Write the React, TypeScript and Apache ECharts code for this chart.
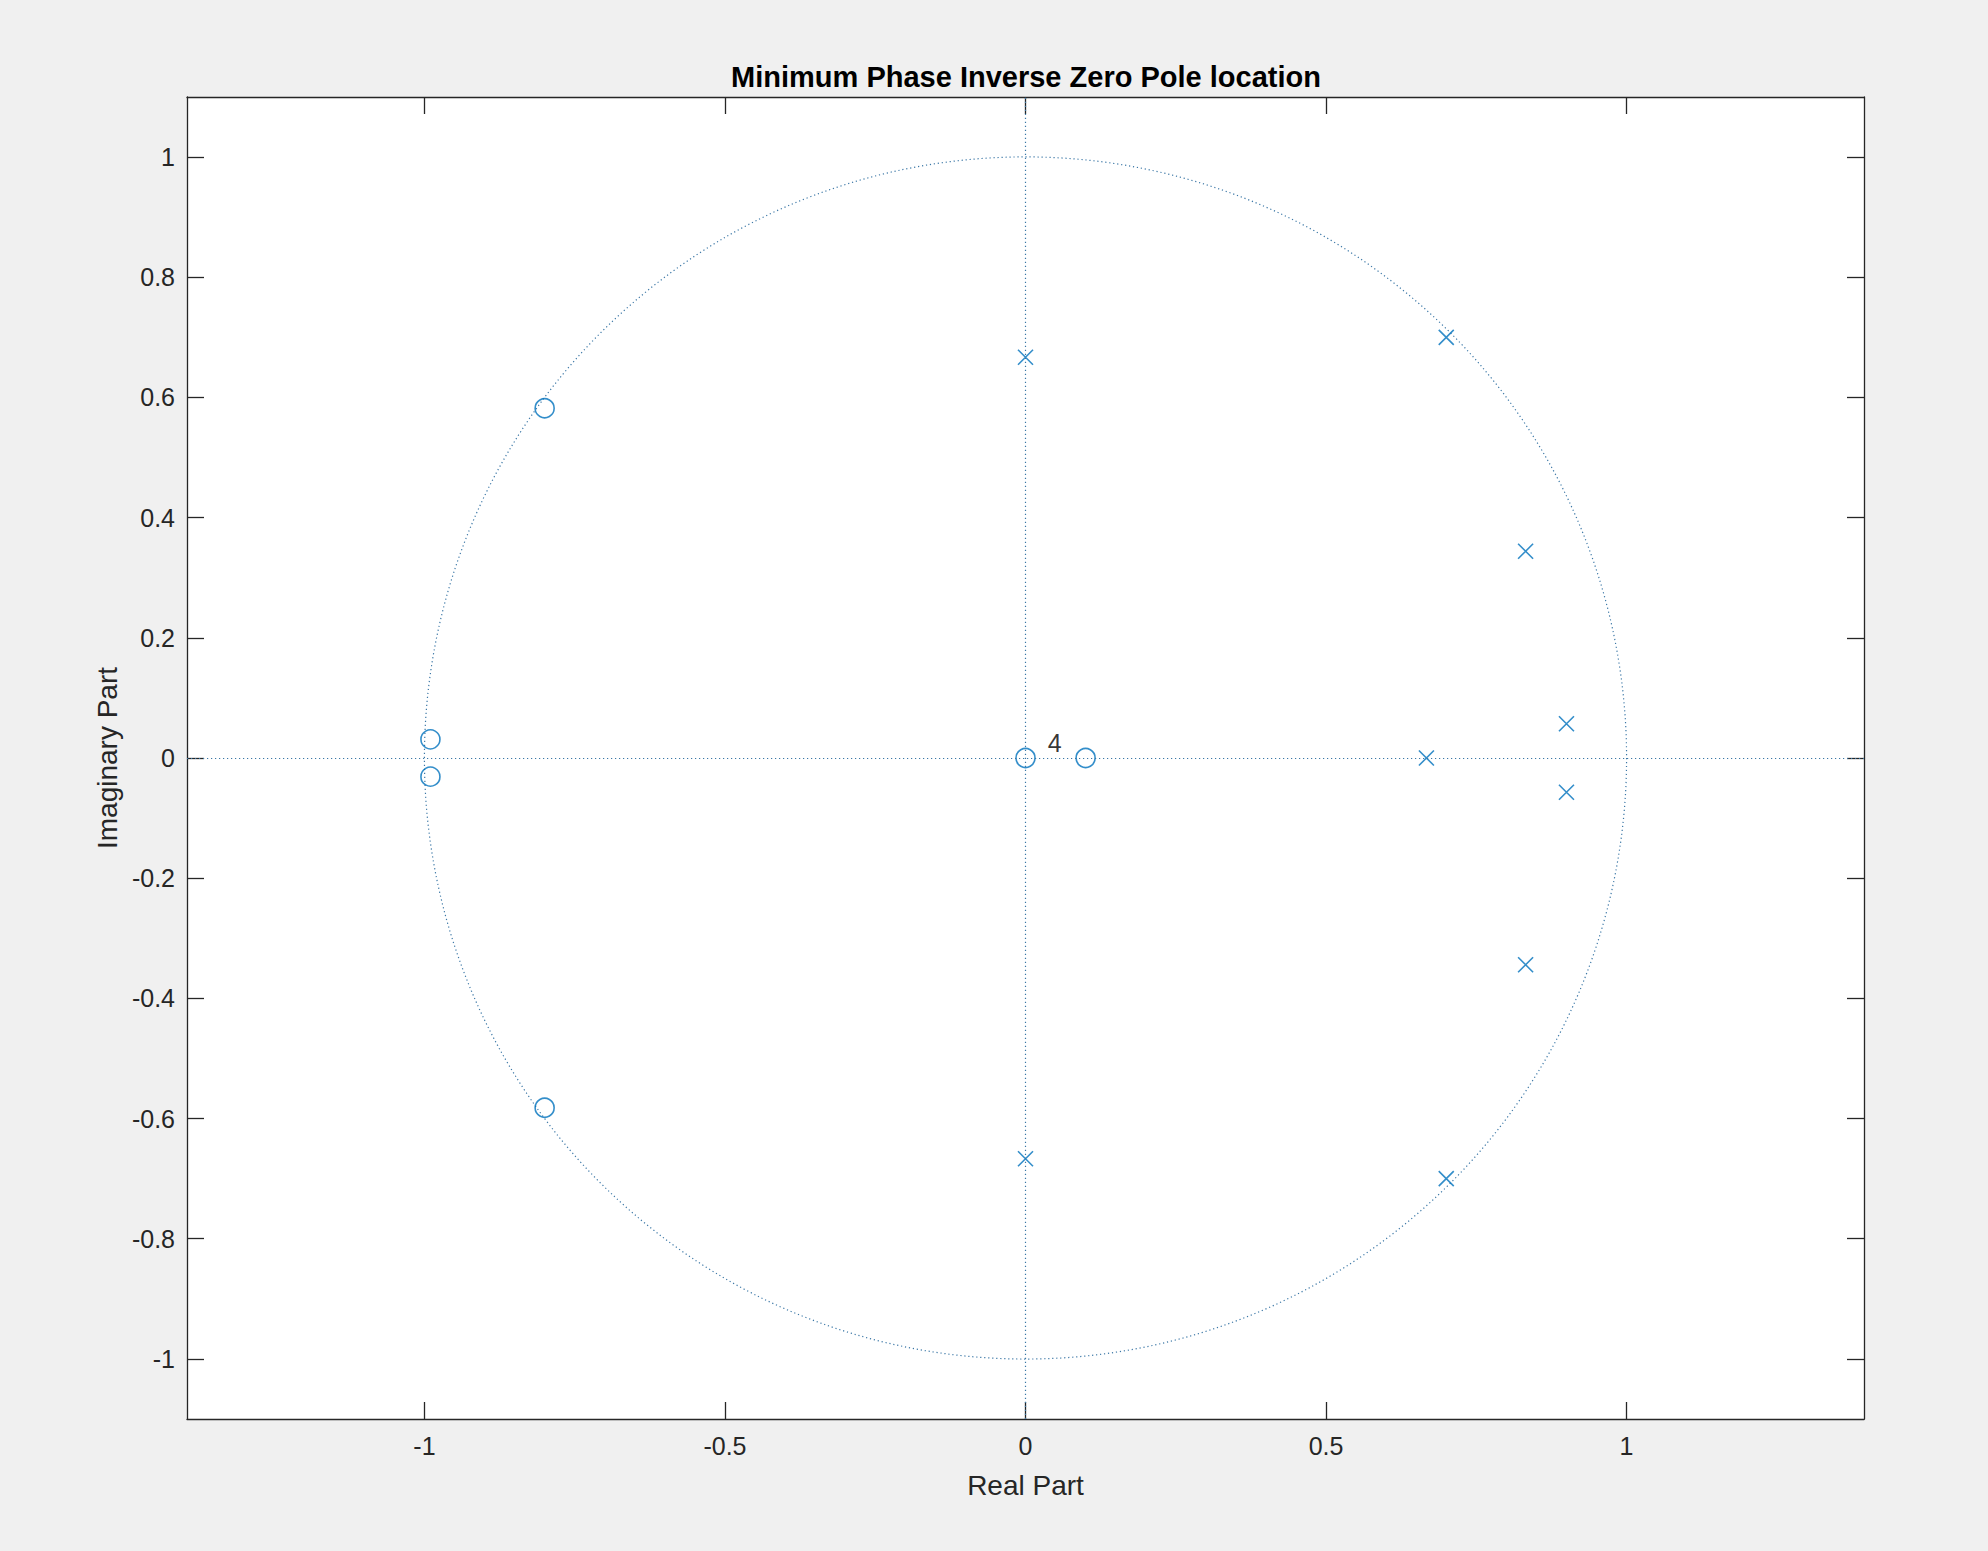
import React, { useEffect, useRef } from "react";
import * as echarts from "echarts";

const TITLE = "Minimum Phase Inverse Zero Pole location";
const X_NAME = "Real Part";
const Y_NAME = "Imaginary Part";

const xTicks = [-1, -0.5, 0, 0.5, 1];
const yTicks = [-1, -0.8, -0.6, -0.4, -0.2, 0, 0.2, 0.4, 0.6, 0.8, 1];

const X_MIN = -1.395;
const X_MAX = 1.395;
const Y_MIN = -1.1;
const Y_MAX = 1.1;

// zeros (circles)
const zeroRe = [0, 0.1, -0.99, -0.99, -0.8, -0.8];
const zeroIm = [0, 0, 0.031, -0.031, 0.582, -0.582];
const zeroMult = [4, 1, 1, 1, 1, 1];

// poles (crosses)
const poleRe = [0.7, 0.7, 0.832, 0.832, 0.9, 0.9, 0.667, 0, 0];
const poleIm = [0.7, -0.7, 0.344, -0.344, 0.057, -0.057, 0, 0.667, -0.667];

// unit circle: center (0,0), radius 1
const unitCircle = [[0, 0, 1]];

const BLUE = "#0072BD";
const DOT = "#3b77a6";
const AXC = "#262626";
const FONT = "'Liberation Sans', Arial, Helvetica, sans-serif";

const fmt = (v: number) => {
  const r = Math.round(v * 10) / 10;
  return String(r);
};

export default function App() {
  const ref = useRef<HTMLDivElement>(null);
  useEffect(() => {
    if (!ref.current) return;
    const chart = echarts.init(ref.current, undefined, { renderer: "svg" });
    const commonX = {
      type: "value",
      min: X_MIN,
      max: X_MAX,
      axisLine: { show: true, onZero: false, lineStyle: { color: AXC, width: 1.3 } },
      splitLine: { show: false },
    };
    const commonY = {
      type: "value",
      min: Y_MIN,
      max: Y_MAX,
      axisLine: { show: true, onZero: false, lineStyle: { color: AXC, width: 1.3 } },
      splitLine: { show: false },
    };
    const option: any = {
      animation: false,
      backgroundColor: "#f0f0f0",
      title: {
        text: TITLE,
        left: 1021,
        textAlign: "center",
        top: 57,
        textStyle: { fontFamily: FONT, fontSize: 29, fontWeight: "bold", color: "#000" },
      },
      grid: {
        left: 187,
        top: 97,
        width: 1677,
        height: 1322,
        show: true,
        backgroundColor: "#ffffff",
        borderWidth: 0,
      },
      xAxis: [
        {
          ...commonX,
          position: "bottom",
          name: X_NAME,
          nameLocation: "middle",
          nameGap: 52,
          nameTextStyle: { fontFamily: FONT, fontSize: 28, color: AXC },
          axisTick: { show: true, inside: true, length: 17, customValues: xTicks, lineStyle: { color: AXC, width: 1.3 } },
          axisLabel: {
            show: true,
            customValues: xTicks,
            margin: 14,
            formatter: fmt,
            fontFamily: FONT,
            fontSize: 25,
            color: AXC,
          },
        },
        {
          ...commonX,
          position: "top",
          axisTick: { show: true, inside: true, length: 17, customValues: xTicks, lineStyle: { color: AXC, width: 1.3 } },
          axisLabel: { show: false },
        },
      ],
      yAxis: [
        {
          ...commonY,
          position: "left",
          name: Y_NAME,
          nameLocation: "middle",
          nameGap: 66,
          nameTextStyle: { fontFamily: FONT, fontSize: 28, color: AXC },
          axisTick: { show: true, inside: true, length: 17, customValues: yTicks, lineStyle: { color: AXC, width: 1.3 } },
          axisLabel: {
            show: true,
            customValues: yTicks,
            margin: 12,
            formatter: fmt,
            fontFamily: FONT,
            fontSize: 25,
            color: AXC,
          },
        },
        {
          ...commonY,
          position: "right",
          axisTick: { show: true, inside: true, length: 17, customValues: yTicks, lineStyle: { color: AXC, width: 1.3 } },
          axisLabel: { show: false },
        },
      ],
      series: [
        {
          type: "custom",
          name: "unit circle",
          xAxisIndex: 0,
          yAxisIndex: 0,
          silent: true,
          z: 1,
          data: unitCircle,
          renderItem: (params: any, api: any) => {
            const c = api.coord([api.value(0), api.value(1)]);
            const s = api.size([api.value(2), api.value(2)]);
            return {
              type: "circle",
              shape: { cx: c[0], cy: c[1], r: s[0] },
              style: { fill: "none", stroke: DOT, lineWidth: 1.2, lineDash: [1.2, 2.8] },
            };
          },
          markLine: {
            silent: true,
            symbol: "none",
            label: { show: false },
            lineStyle: { color: DOT, width: 1.2, type: [1.2, 2.8] },
            data: [{ xAxis: 0 }, { yAxis: 0 }],
          },
        },
        {
          type: "scatter",
          name: "zeros",
          xAxisIndex: 0,
          yAxisIndex: 0,
          z: 3,
          symbol: "circle",
          symbolSize: 19,
          itemStyle: { color: "rgba(0,0,0,0)", borderColor: BLUE, borderWidth: 1.6 },
          data: zeroRe.map((x, i) => ({
            value: [x, zeroIm[i]],
            label:
              zeroMult[i] > 1
                ? {
                    show: true,
                    formatter: String(zeroMult[i]),
                    position: "right",
                    distance: 12,
                    offset: [0, -15],
                    fontFamily: FONT,
                    fontSize: 25,
                    color: "#000",
                  }
                : { show: false },
          })),
        },
        {
          type: "scatter",
          name: "poles",
          xAxisIndex: 0,
          yAxisIndex: 0,
          z: 3,
          symbol: "path://M0,0 L10,10 M10,0 L0,10",
          symbolSize: 15,
          itemStyle: { color: "none", borderColor: BLUE, borderWidth: 1.6 },
          data: poleRe.map((x, i) => [x, poleIm[i]]),
        },
      ],
    };
    chart.setOption(option);
    return () => chart.dispose();
  }, []);
  return (
    <div
      ref={ref}
      style={{ position: "fixed", left: 0, top: 0, width: 1988, height: 1551 }}
    />
  );
}
